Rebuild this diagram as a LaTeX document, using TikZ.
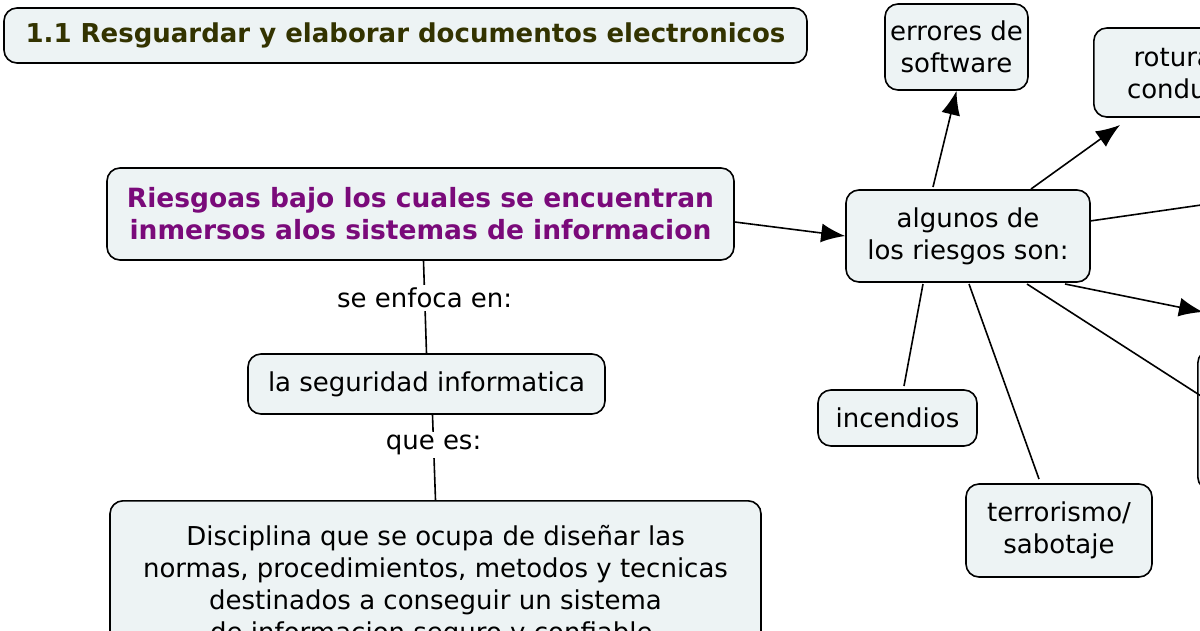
\documentclass[tikz,border=0pt]{standalone}
\usepackage{fontspec}
\setmainfont{DejaVu Sans}
\usetikzlibrary{arrows.meta}
\definecolor{nfill}{HTML}{EDF3F4}
\definecolor{olive}{HTML}{333300}
\definecolor{purp}{HTML}{7A0A7A}
\begin{document}
\begin{tikzpicture}[x=1pt,y=-1pt,
  box/.style={draw=black,line width=1.6pt,fill=nfill,rounded corners=13pt,align=center,font=\fontsize{26}{32}\selectfont,inner sep=0pt},
  lk/.style={line width=1.6pt},
  ar/.style={line width=1.6pt,-{Latex[length=24pt,width=19pt]}},
  lab/.style={fill=white,font=\fontsize{26}{30}\selectfont,inner sep=3pt}]
\useasboundingbox (0,0) rectangle (1200,630);
\clip (0,0) rectangle (1200,630);
\fill[white] (0,0) rectangle (1200,630);
\node[box,minimum width=803pt,minimum height=55pt,text=olive,font=\bfseries\fontsize{26}{30}\selectfont] (title) at (405.5,35.5) {1.1 Resguardar y elaborar documentos electronicos};
\node[box,minimum width=627pt,minimum height=92pt,text=purp,font=\bfseries\fontsize{26.5}{32}\selectfont] (ries) at (420.5,214) {Riesgoas bajo los cuales se encuentran\\inmersos alos sistemas de informacion};
\node[box,minimum width=357pt,minimum height=60pt] (seg) at (426.5,384) {la seguridad informatica};
\node[box,minimum width=651pt,minimum height=170pt,anchor=north] (disc) at (435.5,500) {Disciplina que se ocupa de diseñar las\\normas, procedimientos, metodos y tecnicas\\destinados a conseguir un sistema\\de informacion seguro y confiable.};
\node[box,minimum width=244pt,minimum height=92pt] (alg) at (968,236) {algunos de\\los riesgos son:};
\node[box,minimum width=143pt,minimum height=86pt] (err) at (956.5,47) {errores de\\software};
\node[box,minimum width=160pt,minimum height=89pt,anchor=west,text width=200pt,inner xsep=0pt] (rot) at (1093,72.5) {rotura de\\conductos};
\node[box,minimum width=159pt,minimum height=56pt] (inc) at (897.5,418) {incendios};
\node[box,minimum width=186pt,minimum height=93pt] (ter) at (1059,530.5) {terrorismo/\\sabotaje};
\node[box,minimum width=150pt,minimum height=140pt,anchor=west,text opacity=0] (rgt) at (1197,420) {x};
\coordinate (r1) at (1215,203);
\coordinate (r2) at (1203,312);
\coordinate (r3) at (1215,405);
\draw[ar] (ries.east) ++(0,8) -- (alg.west);
\draw[lk] (ries.south) ++(3,0) -- node[lab,pos=0.4]{se enfoca en:} (seg.north);
\draw[lk] (seg.south) ++(6,0) -- node[lab,pos=0.35]{que es:} (disc.north);
\draw[ar] (933,187) -- (err.south);
\draw[ar] (1031,189) -- (1120,125);
\draw[lk] (1090,221) -- (r1);
\draw[ar] (1065,284) -- (r2);
\draw[lk] (1027,284) -- (r3);
\draw[lk] (923,284) -- (904,386);
\draw[lk] (969,284) -- (1039,479);
\end{tikzpicture}
\end{document}
